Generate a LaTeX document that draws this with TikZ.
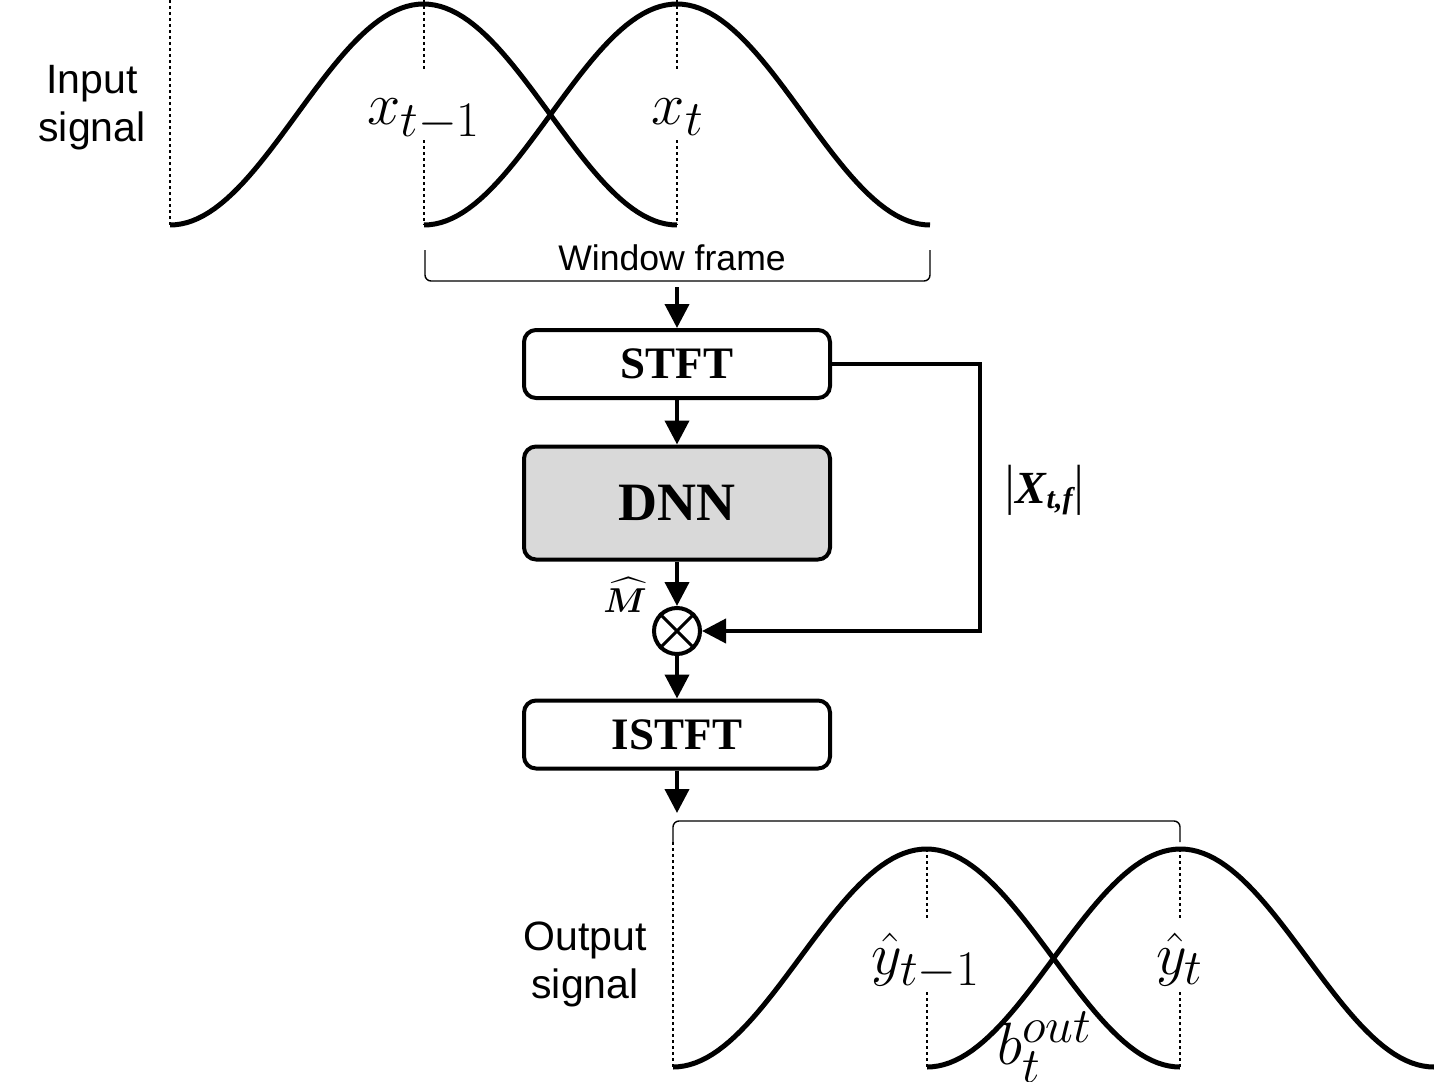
\documentclass[tikz,border=0pt]{standalone}
\usepackage{amsmath}
\usepackage{graphicx}
\usepackage[no-math]{fontspec}
\setmainfont{Liberation Sans}
\newfontfamily\tnr{Liberation Serif}
\usetikzlibrary{arrows.meta}
\definecolor{boxgray}{HTML}{D9D9D9}
\newcommand{\bigmath}[1]{\scalebox{1.2}{\fontsize{24.88}{30}\selectfont$#1$}}
\begin{document}
\begin{tikzpicture}[x=0.5pt,y=-0.5pt,
  box/.style={draw,line width=2pt,rounded corners=6pt,minimum width=153pt,inner sep=0pt,font=\tnr\bfseries\fontsize{22.5}{27}\selectfont},
  flow/.style={line width=2pt,-{Triangle[width=12pt,length=12pt]}},
  wave/.style={line width=2.5pt},
  guide/.style={line width=1pt,dash pattern=on 1.5pt off 1.5pt},
  brace/.style={line width=0.7pt,rounded corners=3pt},
  lab/.style={font=\fontsize{20.5}{24}\selectfont,align=center},
  mlab/.style={inner sep=0pt,anchor=base}]
\useasboundingbox (0,0) rectangle (1434,1081);

% input waveforms
\draw[wave] plot[domain=0:360,samples=91] ({170+1.40833*\x},{225-110.5*(1-cos(\x))});
\draw[wave] plot[domain=0:360,samples=91] ({424+1.40556*\x},{225-110.5*(1-cos(\x))});
\draw[guide] (170,0) -- (170,225);
\draw[guide] (424,0) -- (424,72) (424,140) -- (424,225);
\draw[guide] (677,0) -- (677,72) (677,140) -- (677,225);
\draw[brace] (425,250) -- (425,281) -- (930,281) -- (930,250);

\node[lab] (inlabel) at (92,108) {Input\\signal};
\node[mlab] (xprev) at (424,125) {\bigmath{x_{t-1}}};
\node[mlab] (xcur) at (678,125) {\bigmath{x_t}};
\node[font=\fontsize{17.8}{21}\selectfont,anchor=base,inner sep=0pt] (wflabel) at (672,270) {Window frame};

% processing chain
\node[box,minimum height=34pt] (stft) at (677,364) {STFT};
\node[box,minimum height=56.5pt,fill=boxgray,font=\tnr\bfseries\fontsize{27}{32}\selectfont] (dnn) at (677,503) {DNN};
\node[draw,circle,line width=2pt,minimum size=23pt,inner sep=0pt] (mult) at (677,631) {};
\draw[line width=1.5pt] (mult.north west) -- (mult.south east) (mult.north east) -- (mult.south west);
\node[box,minimum height=34pt] (istft) at (677,734.5) {ISTFT};

\coordinate (wfarrow) at (677,287);
\coordinate (fbcorner) at (980,364);
\coordinate (outtip) at (677,813);
\draw[flow] (wfarrow) -- (stft);
\draw[flow] (stft) -- (dnn);
\draw[flow] (dnn) -- (mult);
\draw[flow] (mult) -- (istft);
\draw[flow] (istft) -- (outtip);
\draw[flow] (stft.east) -- (fbcorner) |- (mult.east);

\node[anchor=base,font=\fontsize{17.28}{20}\selectfont,inner sep=0pt] (mhat) at (625,612) {$\boldsymbol{\widehat{M}}$};
\node[anchor=base,font=\tnr\fontsize{23}{27}\selectfont,inner sep=0pt] (xmag) at (1045,503) {\scalebox{1}[1.2]{\textbar}\textbf{\textit{X}}\raisebox{-0.25ex}{\fontsize{15}{18}\selectfont\textbf{\textit{t,f}}}\scalebox{1}[1.2]{\textbar}};

% output waveforms
\draw[brace] (673,842) -- (673,821) -- (1180,821) -- (1180,842);
\draw[wave] plot[domain=0:360,samples=91] ({673+1.40833*\x},{1067-109*(1-cos(\x))});
\draw[wave] plot[domain=0:360,samples=91] ({927+1.40833*\x},{1067-109*(1-cos(\x))});
\draw[guide] (673,842) -- (673,1067);
\draw[guide] (927,849) -- (927,920) (927,992) -- (927,1067);
\draw[guide] (1180,849) -- (1180,920) (1180,992) -- (1180,1067);

\node[lab] (outlabel) at (585,964) {Output\\signal};
\node[mlab] (yprev) at (926,974) {\bigmath{\hat{y}_{t-1}}};
\node[mlab] (ycur) at (1180,974) {\bigmath{\hat{y}_t}};
\node[mlab] (bout) at (1045,1064) {\bigmath{b_t^{out}}};
\end{tikzpicture}
\end{document}
